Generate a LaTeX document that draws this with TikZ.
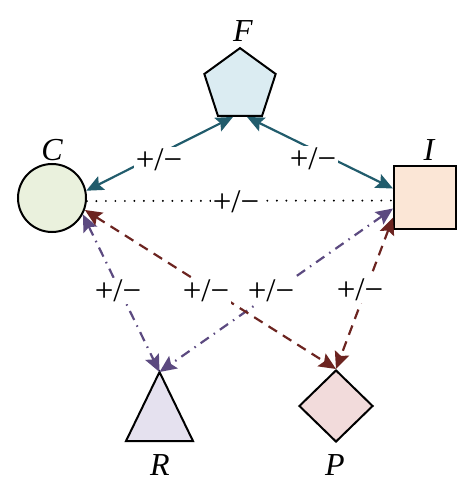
\documentclass[tikz,border=0pt]{standalone}
\usepackage{fontspec}
\setmainfont{Liberation Serif}
\usetikzlibrary{shapes.geometric,arrows.meta}
\definecolor{teal1}{RGB}{33,92,108}
\definecolor{purp}{RGB}{92,74,128}
\definecolor{dred}{RGB}{108,36,32}
\definecolor{ffill}{RGB}{219,236,242}
\definecolor{cfill}{RGB}{234,241,221}
\definecolor{ifill}{RGB}{251,230,214}
\definecolor{rfill}{RGB}{229,225,239}
\definecolor{pfill}{RGB}{242,219,219}
\tikzset{
  shapeline/.style={draw=black, line width=2pt},
  biarrow/.style={{Stealth[length=17pt,width=15pt,inset=3pt]}-{Stealth[length=17pt,width=15pt,inset=3pt]}},
  tealline/.style={biarrow, draw=teal1, line width=2.2pt},
  dotline/.style={draw=black, line width=2.2pt, line cap=round, dash pattern=on 0pt off 9.5pt},
  purpline/.style={biarrow, draw=purp, line width=2.2pt, dash pattern=on 10pt off 6pt on 1.5pt off 6pt},
  redline/.style={biarrow, draw=dred, line width=2.2pt, dash pattern=on 10pt off 7pt},
  lab/.style={fill=white, inner sep=1.5pt, font=\fontsize{33}{33}\selectfont},
  letter/.style={font=\fontsize{32}{32}\selectfont\itshape, inner sep=0pt}
}
\begin{document}
\begin{tikzpicture}[x=1pt,y=-1pt]
\useasboundingbox (0,0) rectangle (474,492);
% shapes
\node[shapeline, fill=ffill, regular polygon, regular polygon sides=5, minimum size=75pt, inner sep=0pt] (F) at (240,85.6) {};
\node[shapeline, fill=cfill, circle, minimum size=68pt, inner sep=0pt] (C) at (52,198) {};
\node[shapeline, fill=ifill, rectangle, minimum width=62pt, minimum height=63pt, inner sep=0pt] (I) at (425,197.5) {};
\node[shapeline, fill=pfill, diamond, minimum width=74pt, minimum height=72pt, inner sep=0pt] (P) at (336,406) {};
\coordinate (R) at (159.5,372);
\coordinate (Rl) at (126,441);
\coordinate (Rr) at (193,441);
\draw[shapeline, fill=rfill] (R) -- (Rl) -- (Rr) -- cycle;
% letters
\node[letter] (Ft) at (243,31) {F};
\node[letter] (Ct) at (52,150) {C};
\node[letter] (It) at (429,150) {I};
\node[letter] (Rt) at (160,465) {R};
\node[letter] (Pt) at (335,465) {P};
% connectors
\draw[dotline] (C.-5) -- ([yshift=-3pt]I.west);
\draw[tealline] ([xshift=-7pt]F.south) -- (C.12);
\draw[tealline] ([xshift=7pt]F.south) -- ([yshift=9pt]I.west);
\draw[purpline] (C.-28) -- (R);
\draw[purpline] ([yshift=-11pt]I.west) -- (R);
\draw[redline] (C.-20) -- (P.north);
\draw[redline] ([yshift=-20pt]I.west) -- (P.north);
% labels
\node[lab] (l1) at (159,160) {+/−};
\node[lab] (l2) at (313,159) {+/−};
\node[lab] (l3) at (236,202) {+/−};
\node[lab] (l4) at (118,291) {+/−};
\node[lab] (l5) at (206,291) {+/−};
\node[lab] (l6) at (271,291) {+/−};
\node[lab] (l7) at (360,290) {+/−};
\end{tikzpicture}
\end{document}
